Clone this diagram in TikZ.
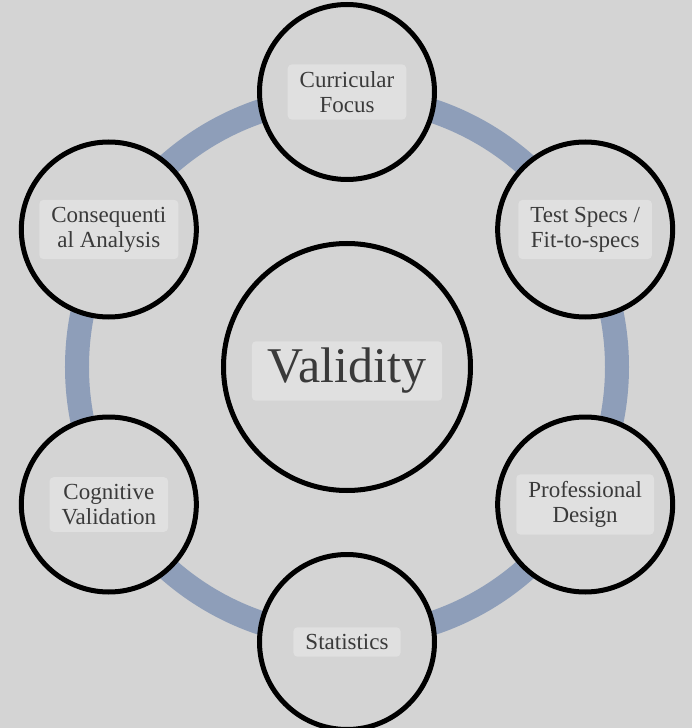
\documentclass[tikz,border=0pt]{standalone}
\usepackage{fontspec}
\setmainfont{Liberation Serif}
\usepackage{tikz}

\definecolor{bggray}{RGB}{212,212,212}
\definecolor{boxgray}{RGB}{224,224,224}
\definecolor{ringblue}{RGB}{142,158,185}
\definecolor{txtgray}{RGB}{58,58,58}

\begin{document}
\begin{tikzpicture}[x=1pt, y=1pt,
	every node/.style={font=\fontsize{23}{25}\selectfont, text=txtgray},
	ball/.style={circle, draw=black, fill=bggray, line width=5pt, minimum size=175pt, inner sep=0pt},
	tag/.style={fill=boxgray, rounded corners=4pt, align=center, inner xsep=12pt, inner ysep=7pt}]
	\fill[bggray] (-347,-361) rectangle (345,367);
	\useasboundingbox (-347,-361) rectangle (345,367);
	\draw[ringblue, line width=24pt] (0,0) circle (270);
	% outer circles
	\node[ball] (cf) at (90:275) {};
	\node[ball] (ts) at (30:275) {};
	\node[ball] (pd) at (-30:275) {};
	\node[ball] (st) at (-90:275) {};
	\node[ball] (cv) at (210:275) {};
	\node[ball] (ca) at (150:275) {};
	\node[ball, minimum size=247pt] (val) at (0,0) {};
	% labels
	\node[tag] (cf-t) at (cf) {Curricular\\Focus};
	\node[tag] (ts-t) at (ts) {Test Specs /\\Fit-to-specs};
	\node[tag] (pd-t) at (pd) {Professional\\Design};
	\node[tag] (st-t) at (st) {Statistics};
	\node[tag] (cv-t) at (cv) {Cognitive\\Validation};
	\node[tag] (ca-t) at (ca) {Consequenti\\al Analysis};
	\node[tag, font=\fontsize{50}{54}\selectfont, inner xsep=16pt] (val-t) at ([yshift=-4pt]val.center) {Validity};
\end{tikzpicture}
\end{document}
